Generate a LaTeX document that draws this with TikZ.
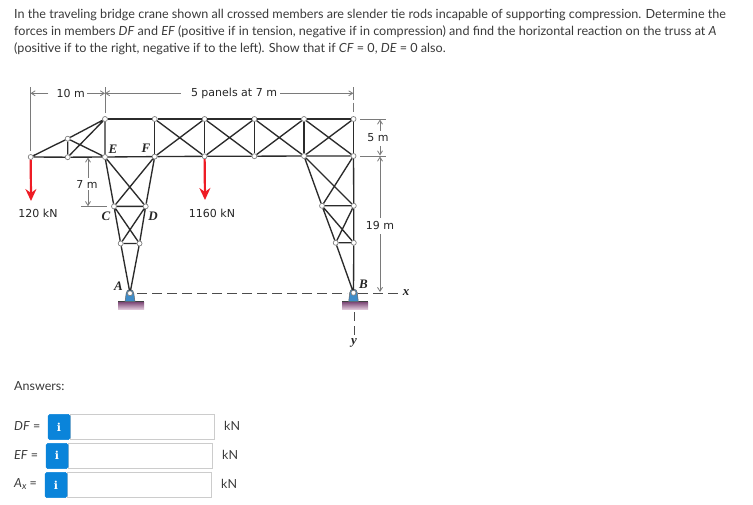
\documentclass[tikz,border=0pt]{standalone}
\usepackage{fontspec}
\setmainfont{Lato}
\newfontfamily\dimfont{DejaVu Sans}
\newfontfamily\serifl{Liberation Serif}
\newfontfamily\infofont{DejaVu Serif}
\usetikzlibrary{arrows.meta}
\definecolor{txt}{HTML}{3A3A3A}
\definecolor{member}{HTML}{2B2B2B}
\definecolor{dimc}{HTML}{7A7A7A}
\definecolor{loadred}{HTML}{EE1C25}
\definecolor{pin}{HTML}{3F8DC9}
\definecolor{infob}{HTML}{0A84DA}
\definecolor{boxl}{HTML}{CCCCCC}
\definecolor{groundtop}{HTML}{7E4A78}
\definecolor{groundbot}{HTML}{DCC3D6}
\tikzset{
  joint/.style={circle,draw=black!50,fill=white,line width=0.7pt,inner sep=0pt,minimum size=5pt},
  memb/.style={draw=member,line width=1.35pt},
  dimline/.style={draw=dimc,line width=0.8pt},
  dimar/.style={dimline,-{Straight Barb[length=4pt,width=5pt]}},
  dashaxis/.style={draw=black!70,line width=0.9pt,dash pattern=on 10pt off 5pt},
  load/.style={draw=loadred,line width=2.2pt,-{Stealth[length=12pt,width=11pt,inset=4pt]}},
  para/.style={anchor=west,inner sep=0pt,text=txt,font=\fontsize{12.6}{14}\selectfont},
  dimtext/.style={inner sep=0pt,text=black!85,font=\dimfont\fontsize{11}{13}\selectfont},
  letter/.style={inner sep=0pt,text=black!85,font=\serifl\bfseries\itshape\fontsize{13}{15}\selectfont},
  anslabel/.style={anchor=west,inner sep=0pt,text=txt,font=\fontsize{12.5}{14}\selectfont},
  infobtn/.style={draw=infob,fill=infob,rounded corners=1.5pt,line width=0.5pt},
  inbox/.style={draw=boxl,fill=white,line width=1pt},
  infoi/.style={inner sep=0pt,text=white,font=\infofont\bfseries\fontsize{11}{13}\selectfont},
  pinbody/.style={fill=pin,draw=black!60,line width=0.5pt},
  ground/.style={top color=groundtop,bottom color=groundbot,draw=none},
  groundline/.style={draw=black!75,line width=1pt},
}
\begin{document}
\begin{tikzpicture}[x=1pt,y=-1pt]
\useasboundingbox (0,0) rectangle (753,504);
\fill[white] (0,0) rectangle (753,504);

% problem statement
\node[para] (l1) at (14,15) {In the traveling bridge crane shown all crossed members are slender tie rods incapable of supporting compression. Determine the};
\node[para] (l2) at (14,32) {forces in members \textit{DF} and \textit{EF} (positive if in tension, negative if in compression) and find the horizontal reaction on the truss at \textit{A}};
\node[para] (l3) at (14,49) {(positive if to the right, negative if to the left). Show that if \textit{CF} = 0, \textit{DE} = 0 also.};

% supports (behind joints)
\fill[ground] (118,302) rectangle (144,309);
\fill[ground] (342,302) rectangle (368,309);
\draw[groundline] (118,301.7) -- (144,301.7);
\draw[groundline] (342,301.7) -- (368,301.7);
\path[pinbody] (125,301.5) -- (126.2,293.3) arc (180:360:3.8) -- (135,301.5) -- cycle;
\path[pinbody] (348.7,301.5) -- (349.7,292.8) arc (180:360:3.8) -- (358.3,301.5) -- cycle;

% joints
\node[joint] (tip) at (30.7,157) {};
\node[joint] (p1) at (67.7,138.7) {};
\node[joint] (q1) at (67.7,157.2) {};
\node[joint] (t0) at (105,119) {};
\node[joint] (t1) at (154.7,119) {};
\node[joint] (t2) at (204.6,119) {};
\node[joint] (t3) at (254.4,119) {};
\node[joint] (t4) at (304,119) {};
\node[joint] (t5) at (353.5,119) {};
\node[joint] (E) at (105,157) {};
\node[joint] (F) at (154.7,156.6) {};
\node[joint] (b2) at (204.6,156.3) {};
\node[joint] (b3) at (254.4,156.2) {};
\node[joint] (b4) at (304,156) {};
\node[joint] (b5) at (353.5,156) {};
\node[joint] (C) at (114,206.4) {};
\node[joint] (D) at (145.7,206.4) {};
\node[joint] (L) at (120.7,243.5) {};
\node[joint] (R) at (139.5,243.5) {};
\node[joint] (A) at (130,293.3) {};
\node[joint] (Cr) at (322,205.8) {};
\node[joint] (Dr) at (353.8,205.8) {};
\node[joint] (Lr) at (335.7,242.8) {};
\node[joint] (Rr) at (353.8,242.8) {};
\node[joint] (B) at (353.5,292.8) {};

% members
\draw[memb] (tip) -- (p1) (p1) -- (t0) (tip) -- (q1) (q1) -- (E) (p1) -- (q1) (p1) -- (E) (q1) -- (t0) (t0) -- (E);
\draw[memb] (t0) -- (t1) (t1) -- (t2) (t2) -- (t3) (t3) -- (t4) (t4) -- (t5);
\draw[memb] (E) -- (F) (F) -- (b2) (b2) -- (b3) (b3) -- (b4) (b4) -- (b5);
\draw[memb] (t1) -- (F) (t2) -- (b2) (t3) -- (b3) (t4) -- (b4) (t5) -- (b5);
\draw[memb] (t1) -- (b2) (F) -- (t2) (t2) -- (b3) (b2) -- (t3) (t3) -- (b4) (b3) -- (t4) (t4) -- (b5) (b4) -- (t5);
\draw[memb] (E) -- (C) (F) -- (D) (E) -- (D) (F) -- (C) (C) -- (D);
\draw[memb] (C) -- (L) (D) -- (R) (C) -- (R) (D) -- (L) (L) -- (R) (L) -- (A) (R) -- (A);
\draw[memb] (b4) -- (Cr) (b5) -- (Dr) (b4) -- (Dr) (b5) -- (Cr) (Cr) -- (Dr);
\draw[memb] (Cr) -- (Lr) (Dr) -- (Rr) (Cr) -- (Rr) (Dr) -- (Lr) (Lr) -- (Rr) (Lr) -- (B) (Rr) -- (B);

% loads
\coordinate (load1) at (31,201);
\coordinate (load2) at (205,200);
\draw[load] (tip) -- (load1);
\draw[load] (b2) -- (load2);
\node[dimtext] (n120) at (38,213) {120 kN};
\node[dimtext] (n1160) at (212,213) {1160 kN};

% top dimensions
\coordinate (dl0) at (30.5,87);
\coordinate (dl1) at (30.5,151);
\coordinate (dm0) at (105,87);
\coordinate (dm1) at (105,113);
\coordinate (dr0) at (353.4,87);
\coordinate (dr1) at (353.4,100);
\coordinate (dr2) at (353.4,112);
\draw[dimline] (dl0) -- (dl1);
\draw[dimline] (dm0) -- (dm1);
\draw[dimline] (dr0) -- (dr1);
\draw[dimline] (353.4,102.5) -- (dr2);
\node[dimtext] (ten) at (70.7,93.3) {10 m};
\node[dimtext] (panels) at (234,93.3) {5 panels at 7 m};
\coordinate (a1) at (30.5,93.3);
\coordinate (a2) at (105,93.3);
\coordinate (a3) at (353.4,93.3);
\draw[dimar] (ten.west) ++(-8,0) -- (a1);
\draw[dimar] (ten.east) ++(2,0) -- (a2);
\draw[dimar] (panels.west) ++(-10,0) -- (a2);
\draw[dimar] (panels.east) ++(3,0) -- (a3);

% right dimensions
\coordinate (e1a) at (360,119);
\coordinate (e1b) at (386,119);
\coordinate (e2a) at (360,156);
\coordinate (e2b) at (386,156);
\draw[dimline] (e1a) -- (e1b);
\draw[dimline] (e2a) -- (e2b);
\node[dimtext] (five) at (378,138) {5 m};
\node[dimtext] (nineteen) at (380,225) {19 m};
\coordinate (r1) at (380,119.5);
\coordinate (r2) at (380,155.5);
\coordinate (r3) at (380,156.5);
\coordinate (r4) at (380,292);
\draw[dimar] (380,130.5) -- (r1);
\draw[dimar] (380,146) -- (r2);
\draw[dimar] (nineteen.north) ++(0,-3) -- (r3);
\draw[dimar] (nineteen.south) ++(0,5) -- (r4);

% 7 m dimension
\coordinate (s0) at (81,206.7);
\coordinate (s1) at (107,206.7);
\draw[dimline] (s0) -- (s1);
\node[dimtext] (seven) at (87,184) {7 m};
\coordinate (s2) at (88,157.5);
\coordinate (s3) at (88,206.2);
\draw[dimar] (seven.north) ++(1,-2) -- (s2);
\draw[dimar] (seven.south) ++(1,2) -- (s3);

% axes
\coordinate (xa) at (137,293);
\coordinate (xb) at (347,293);
\coordinate (xc) at (358,293);
\coordinate (xd) at (401,293);
\coordinate (ya) at (354,312);
\coordinate (yb) at (354,335);
\draw[dashaxis] (xa) -- (xb);
\draw[dashaxis] (xc) -- (xd);
\draw[draw=black!70,line width=0.9pt,dash pattern=on 9pt off 5pt] (ya) -- (yb);
\node[letter] (xl) at (406,292.5) {x};
\node[letter] (yl) at (354,343) {y};

% letters
\node[letter] (lE) at (113,149) {E};
\node[letter] (lF) at (146,148.5) {F};
\node[letter] (lC) at (106,216) {C};
\node[letter] (lD) at (153,216) {D};
\node[letter] (lA) at (118.5,286) {A};
\node[letter] (lB) at (363.5,284) {B};

% answers
\node[anslabel] (ans) at (14,386) {Answers:};
\node[anslabel] (ldf) at (14,426) {\textit{DF} =};
\node[anslabel] (lef) at (14,455) {\textit{EF} =};
\node[anslabel] (lax) at (14,484) {\textit{A}\raisebox{-2.5pt}{\fontsize{9.5}{10}\selectfont\textit{x}} =};

\draw[inbox] (70,414.5) rectangle (214.5,439.5);
\draw[inbox] (68,443.5) rectangle (212.5,468.5);
\draw[inbox] (67,472.5) rectangle (211.5,497.5);
\draw[infobtn] (48.2,414.4) rectangle (70,439.6);
\draw[infobtn] (46.2,443.4) rectangle (68,468.6);
\draw[infobtn] (45.2,472.4) rectangle (67,497.6);
\node[infoi] (i1) at (59,427) {i};
\node[infoi] (i2) at (57,455.8) {i};
\node[infoi] (i3) at (56,485) {i};
\node[anslabel] (k1) at (224,426) {kN};
\node[anslabel] (k2) at (222,454.5) {kN};
\node[anslabel] (k3) at (221,483.5) {kN};
\end{tikzpicture}
\end{document}
